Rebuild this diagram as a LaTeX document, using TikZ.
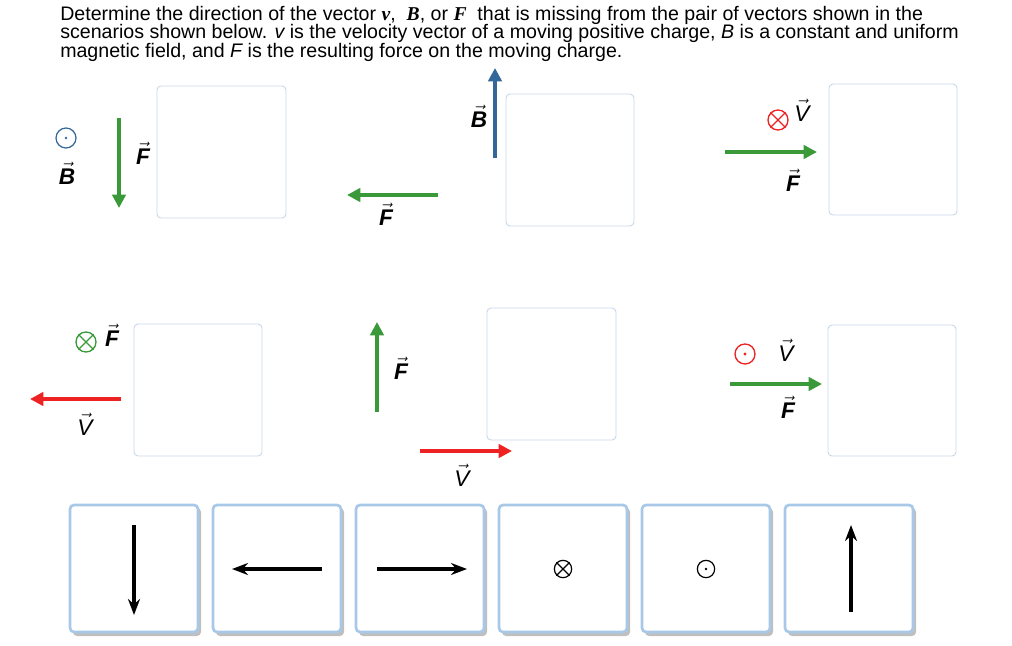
\documentclass[tikz,border=0pt]{standalone}
\usepackage{fontspec}
\setmainfont{Liberation Sans}
\newfontfamily\serifv{Liberation Serif}
\usetikzlibrary{arrows.meta}
\definecolor{gr}{HTML}{3A9A3A}
\definecolor{bl}{HTML}{336699}
\definecolor{rd}{HTML}{EE2222}
\definecolor{bx}{HTML}{C8D8E8}
\definecolor{tb}{HTML}{A8C8E8}
\newcommand{\vl}[1]{$\vec{\mbox{\bfseries\itshape #1}}$}
\newcommand{\vv}{$\vec{\mbox{\itshape V}}$}
\begin{document}
\begin{tikzpicture}[x=0.75pt,y=-0.75pt,
  txt/.style={anchor=west,inner sep=0,font=\fontsize{14.7}{16}\selectfont},
  lab/.style={inner sep=0,font=\fontsize{17}{19}\selectfont},
  ansbox/.style={draw=bx,rounded corners=3pt,line width=0.7pt},
  varr/.style={line width=2.6pt,-{Triangle[length=10pt,width=10pt]}},
  karr/.style={line width=2.4pt,-{Stealth[length=12pt,width=9pt]}},
  tile/.style={draw=tb,line width=2pt,rounded corners=3pt,fill=white}]
\useasboundingbox (0,0) rectangle (1012,645);
\node[txt] (t1) at (60,15) {Determine the direction of the vector {\serifv\bfseries\itshape v}, \ {\serifv\bfseries\itshape B}, or {\serifv\bfseries\itshape F} \ that is missing from the pair of vectors shown in the};
\node[txt] (t2) at (60,33) {scenarios shown below. {\itshape v} is the velocity vector of a moving positive charge, {\itshape B} is a constant and uniform};
\node[txt] (t3) at (60,52) {magnetic field, and {\itshape F} is the resulting force on the moving charge.};
% scenario 1
\node[draw=bl,circle,minimum size=15pt,inner sep=0,line width=0.9pt] (b1) at (66,138) {};
\fill[bl] (b1) circle (1.1pt);
\node[lab] (b1l) at (67,173) {\vl{B}};
\coordinate (f1a) at (119,118); \coordinate (f1b) at (119,208);
\draw[varr,gr] (f1a) -- (f1b);
\node[lab] (f1l) at (143,153) {\vl{F}};
\draw[ansbox] (157,86) rectangle (286,218);
% scenario 2
\coordinate (f2a) at (438,195); \coordinate (f2b) at (347,195);
\draw[varr,gr] (f2a) -- (f2b);
\node[lab] (f2l) at (386,214) {\vl{F}};
\coordinate (b2a) at (495,158); \coordinate (b2b) at (495,68);
\draw[varr,bl] (b2a) -- (b2b);
\node[lab] (b2l) at (479,116) {\vl{B}};
\draw[ansbox] (506,94) rectangle (634,226);
% scenario 3
\node[draw=rd,circle,minimum size=15pt,inner sep=0,line width=1pt] (v3) at (778,120) {};
\draw[rd,line width=1pt] (v3.north west)--(v3.south east) (v3.north east)--(v3.south west);
\node[lab] (v3l) at (802,110) {\vv};
\coordinate (f3a) at (725,152); \coordinate (f3b) at (817,152);
\draw[varr,gr] (f3a) -- (f3b);
\node[lab] (f3l) at (793,180) {\vl{F}};
\draw[ansbox] (829,84) rectangle (957,215);
% scenario 4
\node[draw=gr,circle,minimum size=15pt,inner sep=0,line width=1pt] (f4) at (86,342) {};
\draw[gr,line width=1pt] (f4.north west)--(f4.south east) (f4.north east)--(f4.south west);
\node[lab] (f4l) at (112,335) {\vl{F}};
\coordinate (v4a) at (121,399); \coordinate (v4b) at (30,399);
\draw[varr,rd] (v4a) -- (v4b);
\node[lab] (v4l) at (85,424) {\vv};
\draw[ansbox] (134,324) rectangle (262,456);
% scenario 5
\coordinate (f5a) at (377,412); \coordinate (f5b) at (377,322);
\draw[varr,gr] (f5a) -- (f5b);
\node[lab] (f5l) at (401,368) {\vl{F}};
\draw[ansbox] (487,308) rectangle (616,440);
\coordinate (v5a) at (420,451); \coordinate (v5b) at (512,451);
\draw[varr,rd] (v5a) -- (v5b);
\node[lab] (v5l) at (462,475) {\vv};
% scenario 6
\node[draw=rd,circle,minimum size=15pt,inner sep=0,line width=1pt] (v6) at (745,354) {};
\fill[rd] (v6) circle (1.2pt);
\node[lab] (v6l) at (786,350) {\vv};
\coordinate (f6a) at (730,384); \coordinate (f6b) at (822,384);
\draw[varr,gr] (f6a) -- (f6b);
\node[lab] (f6l) at (788,407) {\vl{F}};
\draw[ansbox] (828,325) rectangle (956,456);
% tiles
\foreach \x in {70,213,356,499,642,785}{
  \fill[black!25,rounded corners=3pt] (\x+3,508) rectangle (\x+131,636);
  \draw[tile] (\x,505) rectangle (\x+128,632);
}
\coordinate (a1) at (134,525); \coordinate (b1e) at (134,615);
\draw[karr] (a1) -- (b1e);
\coordinate (a2) at (322,569); \coordinate (b2e) at (232,569);
\draw[karr] (a2) -- (b2e);
\coordinate (a3) at (377,569); \coordinate (b3e) at (467,569);
\draw[karr] (a3) -- (b3e);
\node[draw,circle,minimum size=13pt,inner sep=0,line width=0.9pt] (tx) at (563,569) {};
\draw[line width=0.9pt] (tx.north west)--(tx.south east) (tx.north east)--(tx.south west);
\node[draw,circle,minimum size=13pt,inner sep=0,line width=0.9pt] (td) at (706,569) {};
\fill (td) circle (1.1pt);
\coordinate (a6) at (851,612); \coordinate (b6e) at (851,525);
\draw[karr] (a6) -- (b6e);
\end{tikzpicture}
\end{document}
